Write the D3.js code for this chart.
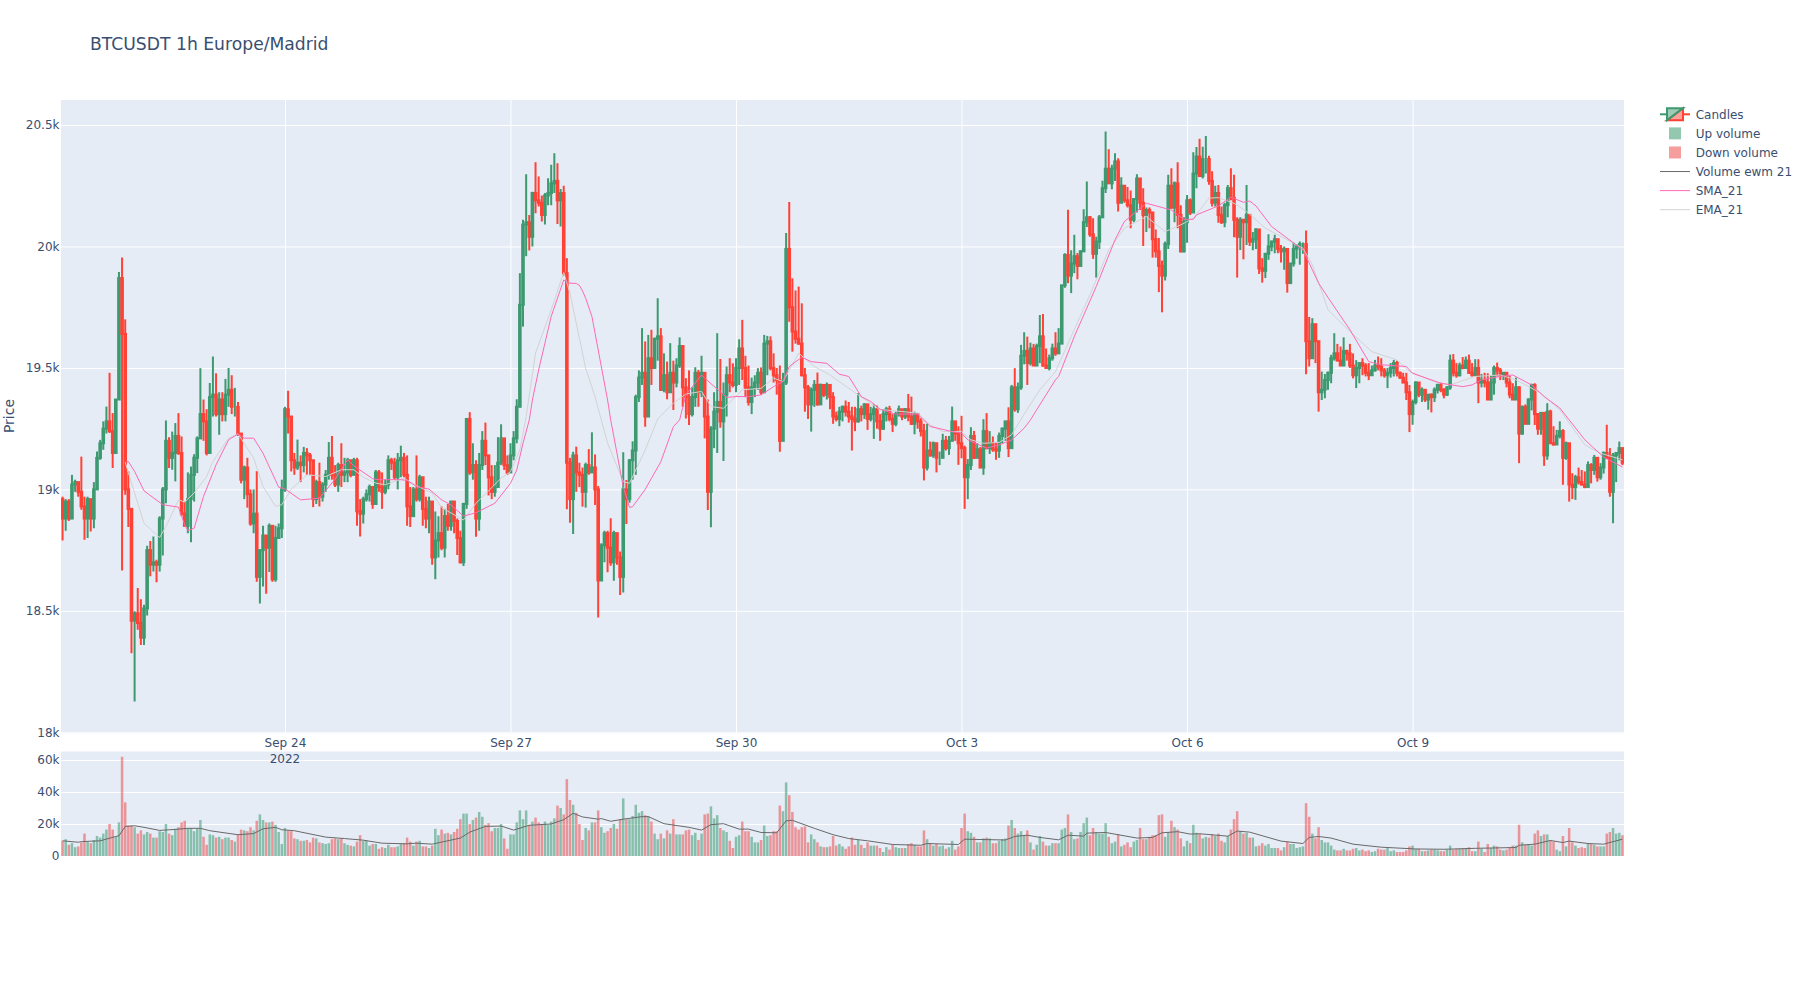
<!DOCTYPE html>
<html>
<head>
<meta charset="utf-8">
<script src="https://cdn.jsdelivr.net/npm/d3@7"></script>
<style>
  body { margin: 0; background: #fff; }
  text { font-family: "DejaVu Sans", Verdana, sans-serif; fill: #3a4e70; }
</style>
</head>
<body>
<div id="drawing"></div>
<script>
const titleText = "BTCUSDT 1h Europe/Madrid";
const firstOpen = 18960;
// one entry per hour, starting Sep 21 2022 01:00
const closes = [
18880,18950,18880,19020,19030,18990,18930,18880,18960,18880,
19000,19130,19190,19250,19280,19240,19150,19370,19870,19640,
19000,18920,18460,18490,18450,18390,18510,18750,18690,18700,
18690,18880,19000,19200,19130,19150,19220,19150,18900,18850,
18960,19060,19130,19210,19310,19280,19150,19380,19390,19310,
19370,19310,19390,19410,19340,19340,19230,19040,19090,18980,
18860,18900,18640,18750,18810,18760,18850,18630,18800,18840,
19000,19330,19300,19120,19090,19110,19100,19150,19140,19120,
18960,19030,18970,19020,19060,19130,19060,19020,19100,19060,
19070,19120,19060,19120,18910,18900,18960,18980,19010,18940,
19070,19010,18990,19020,19120,19110,19050,19120,19130,19060,
18930,18890,19000,18960,19050,18920,18880,18950,18720,18790,
18820,18760,18890,18850,18950,18870,18800,18700,18940,19290,
19070,19100,18880,19100,19200,19140,19050,18990,19010,19110,
19210,19100,19070,19140,19210,19340,19760,20090,20100,20040,
20220,20190,20180,20130,20210,20220,20260,20270,20190,20220,
19890,19110,18960,19140,19070,19060,18990,19100,19070,19090,
19000,18625,18770,18820,18760,18700,18820,18720,18640,19000,
18960,19120,19160,19380,19460,19480,19300,19540,19500,19620,
19630,19410,19470,19400,19480,19440,19510,19590,19420,19380,
19310,19380,19480,19400,19480,19300,18990,19250,19320,19360,
19280,19390,19470,19440,19430,19500,19580,19500,19420,19360,
19420,19440,19480,19400,19600,19610,19500,19470,19450,19200,
19440,19990,19750,19650,19620,19600,19470,19420,19350,19410,
19430,19350,19430,19390,19430,19380,19300,19290,19320,19340,
19320,19300,19290,19280,19330,19310,19350,19290,19310,19330,
19280,19250,19310,19330,19290,19270,19310,19330,19300,19330,
19300,19270,19310,19280,19240,19090,19160,19140,19190,19130,
19130,19200,19170,19200,19280,19230,19190,19170,19050,19100,
19220,19130,19165,19090,19240,19170,19190,19165,19160,19220,
19250,19280,19170,19420,19330,19420,19550,19570,19520,19580,
19510,19590,19630,19510,19500,19540,19580,19560,19600,19840,
19965,19880,19930,19960,19920,19980,20100,20120,20050,19970,
20020,20120,20240,20320,20260,20320,20350,20180,20250,20190,
20170,20110,20195,20280,20180,20130,20150,20140,20030,19980,
19920,19880,20010,20250,20160,20260,20130,19980,20100,20190,
20140,20300,20370,20290,20360,20360,20270,20180,20220,20130,
20100,20170,20240,20200,20110,20040,20110,20100,20130,20020,
20030,20070,19910,19900,19970,20000,20020,20030,19990,19980,
19990,19850,19930,19990,20000,20010,20010,19610,19540,19680,
19610,19400,19410,19450,19480,19540,19560,19530,19510,19570,
19560,19510,19470,19500,19520,19510,19480,19470,19490,19510,
19505,19490,19470,19480,19500,19520,19480,19460,19440,19400,
19310,19360,19440,19390,19410,19370,19390,19380,19410,19430,
19410,19390,19420,19530,19480,19470,19510,19500,19530,19480,
19470,19500,19440,19450,19440,19370,19440,19500,19490,19470,
19480,19440,19390,19370,19420,19230,19340,19270,19370,19430,
19310,19250,19315,19140,19320,19190,19185,19220,19240,19130,
19190,19020,19010,19050,19030,19020,19010,19100,19080,19130,
19050,19090,19150,19130,18990,19140,19150,19170,19110];
const highs = [
18970,18960,18960,19060,19040,19030,19135,18970,18970,18960,
19030,19156,19204,19280,19341,19480,19314,19370,19895,19955,
19700,19074,18920,18498,18594,18548,18525,18768,18788,18806,
18710,18890,19010,19284,19215,19238,19273,19314,19218,18950,
19070,19094,19145,19218,19499,19370,19330,19438,19547,19478,
19400,19400,19455,19500,19470,19418,19360,19230,19098,19130,
19000,19000,19075,18750,18850,18790,18860,18850,18850,18860,
19040,19340,19406,19300,19150,19205,19140,19175,19170,19150,
19040,19040,19110,19030,19080,19195,19220,19100,19110,19190,
19130,19130,19120,19130,19130,18960,18970,19000,19020,19010,
19080,19080,19070,19040,19140,19130,19130,19150,19180,19150,
19140,19010,19010,19140,19060,19050,18970,18970,18950,18909,
18890,18930,18920,18940,18950,18950,18880,18830,18945,19290,
19318,19190,19120,19150,19240,19275,19140,19100,19100,19215,
19268,19210,19140,19190,19240,19371,19890,20110,20297,20130,
20225,20347,20288,20210,20220,20281,20336,20384,20343,20237,
20250,19952,19130,19155,19176,19110,19090,19110,19166,19235,
19144,19014,18778,18830,18830,18881,18830,18800,18744,19153,
19039,19125,19198,19390,19490,19664,19609,19636,19657,19625,
19787,19664,19560,19526,19602,19530,19540,19626,19592,19458,
19490,19420,19503,19492,19550,19480,19370,19260,19400,19643,
19537,19440,19506,19540,19519,19540,19618,19698,19550,19510,
19460,19470,19499,19502,19636,19632,19630,19560,19500,19510,
19480,20055,20183,19869,19819,19835,19766,19500,19430,19420,
19450,19481,19436,19430,19440,19420,19400,19320,19340,19345,
19366,19360,19340,19340,19396,19345,19355,19350,19340,19350,
19345,19310,19330,19340,19344,19310,19320,19345,19330,19335,
19393,19382,19320,19305,19293,19270,19270,19197,19197,19180,
19156,19229,19220,19220,19341,19275,19260,19303,19180,19125,
19256,19241,19190,19175,19289,19314,19240,19218,19195,19234,
19255,19280,19338,19430,19499,19440,19595,19647,19629,19604,
19599,19600,19718,19722,19580,19555,19600,19647,19664,19842,
19972,20151,19985,20048,19973,19985,20153,20267,20125,20116,
20040,20130,20271,20473,20400,20336,20384,20363,20285,20250,
20245,20230,20200,20297,20258,20240,20160,20160,20125,20070,
20035,19942,20020,20295,20322,20267,20347,20170,20120,20212,
20198,20388,20410,20443,20411,20455,20373,20310,20250,20253,
20165,20180,20253,20322,20295,20120,20120,20110,20253,20120,
20060,20075,20048,19952,19972,20050,20025,20048,20027,20006,
20000,19975,19930,20016,20010,20020,20016,20066,19710,19705,
19650,19605,19485,19475,19485,19554,19643,19599,19588,19626,
19575,19599,19560,19532,19520,19540,19520,19520,19510,19533,
19547,19540,19500,19500,19520,19533,19530,19485,19480,19480,
19430,19370,19445,19440,19420,19410,19390,19395,19420,19435,
19440,19417,19425,19555,19557,19520,19522,19545,19547,19555,
19520,19536,19536,19475,19480,19478,19470,19510,19522,19500,
19480,19470,19467,19437,19460,19425,19345,19350,19375,19435,
19437,19314,19318,19290,19355,19328,19260,19245,19280,19248,
19197,19135,19067,19060,19090,19080,19074,19115,19108,19142,
19108,19108,19156,19266,19170,19150,19150,19197,19160];
const lows = [
18790,18830,18870,18880,18990,18970,18916,18793,18800,18827,
18840,19000,19122,19163,19230,19232,19088,19150,19370,18666,
18978,18845,18326,18127,18422,18360,18360,18481,18642,18662,
18618,18662,18728,18943,19088,19081,19033,19142,18889,18848,
18820,18782,18950,19067,19210,19200,19140,19150,19300,19300,
19225,19280,19280,19340,19310,19300,19220,19025,18960,18925,
18850,18820,18620,18530,18600,18570,18660,18620,18620,18800,
18800,18990,19230,19074,19060,19080,19030,19070,19060,19060,
18927,18940,18930,18950,18990,19040,19040,19010,18990,19010,
19030,19030,19050,19060,18850,18806,18860,18950,18950,18920,
18950,18990,18920,18980,19000,19080,19040,19000,19050,19050,
18850,18845,18920,18950,18950,18850,18840,18820,18690,18630,
18720,18750,18720,18830,18830,18820,18730,18695,18685,18920,
19060,19040,18805,18830,19080,19100,18975,18960,18970,19070,
19100,19080,19060,19070,19120,19190,19340,19670,19960,19983,
20000,20137,20165,20103,20090,20170,20170,20220,20093,20082,
19880,18918,18863,18816,18990,19010,18929,18925,19060,19070,
18936,18473,18625,18700,18659,18686,18624,18690,18565,18576,
18858,18945,19040,19060,19360,19430,19258,19300,19430,19520,
19530,19405,19400,19371,19420,19327,19420,19500,19340,19292,
19265,19300,19340,19340,19380,19210,18915,18844,19170,19150,
19254,19117,19300,19400,19420,19400,19430,19450,19380,19345,
19310,19380,19410,19390,19480,19470,19490,19440,19390,19155,
19234,19430,19690,19567,19600,19595,19465,19320,19290,19238,
19340,19345,19380,19380,19370,19330,19270,19280,19260,19280,
19300,19275,19160,19240,19275,19280,19290,19245,19280,19208,
19250,19200,19245,19280,19280,19236,19260,19300,19285,19290,
19280,19265,19227,19250,19218,19037,19078,19135,19130,19070,
19100,19130,19160,19142,19200,19200,19101,19128,18920,18960,
19080,19125,19130,19090,19060,19165,19146,19155,19122,19130,
19190,19200,19133,19170,19320,19315,19410,19515,19430,19510,
19510,19510,19520,19505,19498,19490,19530,19550,19560,19600,
19830,19849,19808,19890,19865,19930,19980,20080,20040,19949,
19872,19990,20120,20220,20260,20236,20270,20144,20180,20180,
20160,20075,20100,20140,20150,20002,20060,20075,19954,19954,
19812,19729,19860,19990,20155,20100,20075,19975,19975,20015,
20130,20150,20240,20288,20280,20300,20254,20165,20165,20098,
20093,20079,20120,20190,20038,19872,19986,19947,20006,20002,
19985,19990,19887,19851,19870,19945,19980,19972,19972,19934,
19904,19810,19845,19917,19950,19925,19970,19474,19506,19560,
19520,19320,19368,19375,19410,19437,19530,19530,19508,19510,
19530,19500,19457,19417,19437,19470,19465,19450,19480,19485,
19490,19465,19460,19417,19460,19465,19465,19455,19437,19368,
19236,19266,19350,19380,19360,19360,19328,19317,19360,19395,
19400,19375,19385,19410,19465,19460,19465,19495,19500,19475,
19465,19470,19355,19420,19420,19368,19370,19390,19465,19450,
19450,19420,19375,19368,19380,19108,19225,19270,19270,19325,
19265,19225,19225,19097,19122,19190,19180,19200,19210,19019,
19122,18950,18960,18957,19020,19016,19005,19012,19025,19060,
19032,19040,19065,19125,18970,18861,19030,19120,19100];
// volume, thousands
const volumes = [
9.5,10.5,7,8,5.5,6,8.5,14,9,8,
10,12.5,11.5,14,16.5,20,16.5,12,21,62,
33.5,19,19,18,14,16,13.5,15,14,11.5,
11.5,15.5,15,20,14,13,17,18,21,22,
17.5,17.5,15.5,17,22.5,12,7,13.5,13,11.5,
12,10.5,11.5,11.5,10,9,13.5,16.5,16,15.5,
18,16,22,26,22.5,21,21,21.5,19.5,15,
7.5,17.5,16,15.5,11,10.5,9.5,9.5,10,8.5,
11.5,11,8.5,8,7.5,8,10.5,11,10.5,11,
8,7,6.5,6,9,13,9.5,9.5,6.5,7.5,
7.5,4.5,5.5,5,7,5.5,5.5,6,7.5,8,
11.5,9,6.5,9,9.5,6,6,5,6.5,17,
13,16.5,14,14.5,13.5,15,17,23,26.5,26.5,
20,22.5,24,27.5,24.5,19.5,20.5,15.5,17.5,17.5,
20,11,4.5,13.5,13.5,21,28.5,23,28.5,19.5,
21.5,24,21,20,21.5,19.5,21.5,23.5,31.5,30,
26,48,35,32,27,20,10,17.5,16,21,
21,28.5,18,14.5,15.5,17.5,20,17,23,36,
23,23,25,32,27,28,25.5,25,21.5,14,
10.5,14,11,16,14,23,13.5,13.5,13.5,16,
16.5,13,14.5,10,14,26,26.5,31,23.5,25.5,
17.5,16,15,9.5,5,12,13,21.5,15.5,15.5,
12,8.5,8.5,10,19,12.5,13,15.5,15.5,31.5,
28,46,38,27.5,18,16.5,18,18.5,8.5,13.5,
10.5,8.5,6,5.5,5.5,6,12.5,6.5,7.5,6,
4.5,6,11.5,7,10,7,5,8.5,6.5,6.5,
6.5,5,2.5,5.5,4,7,5.5,5,5,5,
7.5,8,7,6,6,16,10.5,8,6.5,7.5,
6,6.5,4.5,5.5,9.5,4,6,17.5,26.5,15.5,
14.5,12,8.5,8.5,11,11.5,11,8,8,9.5,
10.5,11,19,22.5,17.5,14,15.5,12.5,16,8.5,
4,7,12.5,9,6.5,6.5,8,8,8,16.5,
17.5,26,15,10.5,11,15,20.5,24,13,17.5,
15,14,14,20.5,12,8,9,13.5,6,7,
8.5,5.5,9,10,17.5,10.5,10.5,12,13,13,
25.5,26,12,15,22,18,16.5,11,6,9.5,
8,19.5,14.5,14,11,12,11.5,13.5,12.5,14,
9.5,8.5,12.5,16.5,23,28,15.5,14,14.5,11.5,
11.5,6,6.5,8,6.5,7.5,5,5,5,3.5,
5.5,9,7.5,7.5,5,5.5,6,33,24.5,14,
11,18,10,8.5,8.5,6.5,4,3.5,3.5,4.5,
3.5,3.5,4.5,5,3.5,4,3,3.5,2.5,3,
4.5,4,4,5,3,3.5,2.5,2.5,2.5,3.5,
6,6.5,4.5,4.5,3,3,3.5,4,4,3.5,
3,3,4,6.5,4,4.5,4.5,4.5,4.5,5.5,
3,3,9,4.5,2.5,7.5,5,6.5,6,4,
3.5,4,5.5,6.5,6.5,19.5,8.5,7,7.5,6.5,
14,16,12.5,13.5,13.5,10,9,4,3,12.5,
6,17.5,8.5,6.5,5,5.5,5,7.5,7.5,7,
6,6,6,14,15,17.5,14,14.5,13];

// moving averages: hour index, value
const smaHours = [20,21,23,26,32,37,39,40,42,45,49,53,56,58,61,64,69,71,76,82,87,91,93,99,101,108,110,113,117,121,124,128,132,138,143,145,147,149,150,152,156,160,162,164,165,166,167,169,170,174,175,179,181,182,186,191,195,197,199,204,205,212,215,219,223,227,230,232,236,239,244,248,251,255,258,261,266,273,277,284,287,289,295,299,303,307,309,311,317,318,323,330,336,339,346,354,358,361,362,369,373,377,379,381,386,396,399,401,404,411,417,421,429,431,440,447,450,453,459,463,469,473,478,481,486,492,498];
const smaValues = [19112,19115,19074,18994,18937,18927,18854,18831,18840,18971,19101,19204,19228,19211,19211,19149,19009,19002,18957,18964,19042,19122,19097,19044,19040,19040,19037,19012,19001,18957,18936,18890,18904,18943,19025,19080,19190,19286,19368,19492,19712,19862,19849,19848,19840,19817,19787,19712,19643,19368,19286,19011,18926,18929,19000,19114,19258,19286,19390,19471,19458,19379,19382,19382,19389,19423,19444,19506,19544,19526,19519,19474,19465,19382,19362,19330,19310,19310,19259,19238,19231,19204,19170,19183,19204,19252,19286,19328,19451,19465,19629,19835,20027,20103,20178,20150,20112,20112,20130,20167,20203,20182,20187,20167,20082,19986,19904,19849,19790,19657,19526,19513,19506,19478,19437,19423,19430,19451,19465,19471,19430,19382,19335,19286,19204,19133,19092];
const emaHours = [20,22,26,31,33,37,39,42,46,48,53,56,61,64,68,70,73,78,84,89,93,96,100,103,109,113,118,121,128,132,140,143,146,148,151,156,160,162,167,170,172,174,179,181,186,190,195,199,204,207,211,217,223,227,230,235,240,245,254,261,263,273,277,281,287,290,294,299,303,307,312,317,322,328,334,339,346,352,357,361,366,369,374,378,384,388,396,399,404,411,418,426,430,438,443,451,459,464,472,478,486,491,498];
const emaValues = [19112,19026,18861,18802,18847,18957,18948,18985,19053,19115,19211,19229,19129,19012,18930,18937,19001,19060,19053,19081,19081,19050,19026,19019,19046,19015,18985,18925,18874,18943,19046,19073,19162,19300,19561,19739,19893,19808,19499,19382,19286,19190,19032,19025,19162,19290,19355,19393,19403,19341,19334,19410,19416,19458,19444,19561,19506,19471,19389,19327,19327,19314,19266,19238,19238,19204,19190,19193,19225,19310,19410,19485,19629,19801,19986,20075,20123,20061,20089,20116,20199,20201,20178,20144,20075,20048,19993,19925,19739,19650,19567,19533,19485,19444,19430,19465,19471,19451,19396,19328,19183,19149,19122];
const ewmHours = [0,5,6,12,17,18,20,23,26,31,36,40,44,47,56,61,64,68,70,74,84,90,96,102,110,113,118,127,130,135,140,144,149,156,160,163,166,171,172,175,179,185,187,192,200,204,207,211,216,219,223,228,231,233,240,246,251,257,265,274,276,286,288,301,304,308,312,318,321,326,327,333,343,348,351,356,360,363,372,375,379,389,396,398,401,405,412,421,432,441,451,464,465,470,475,479,481,487,492,498];
const ewmValues = [9.5,8.6,9,9.5,12.2,12.6,18.5,18.9,17.9,16,16.6,17.3,17.3,15.8,13.3,14,17,17.9,16.4,15.8,11.8,10.9,9.9,8,7.6,8,7.4,11.2,14.9,18.5,18.7,16.2,19.2,20,22.7,26.7,24.4,23,23.4,21.7,23,24.6,24.6,20.2,17.9,16.2,19.6,20.2,16.8,16.8,14.7,14.5,22,22.3,17.3,13.3,10.9,9.5,7.2,6.7,7.8,7.2,10.5,10,12.2,13,11.6,10.1,13,12.4,14.3,14.7,11.2,11.6,14.5,15.2,13.7,13.9,12.4,15.6,14.9,9.3,7.8,11.6,12.2,11.2,7.4,5.5,4.4,4.2,4.8,5.3,6.7,7.4,9.7,8.4,9.3,7.8,7.4,10.5];

const priceTicks = [18000,18500,19000,19500,20000,20500];
const priceTickLabels = ["18k","18.5k","19k","19.5k","20k","20.5k"];
const volumeTicks = [0,20,40,60];
const volumeTickLabels = ["0","20k","40k","60k"];
const dateTicks = ["2022-09-24","2022-09-27","2022-09-30","2022-10-03","2022-10-06","2022-10-09"];
const dateTickLabels = ["Sep 24","Sep 27","Sep 30","Oct 3","Oct 6","Oct 9"];
const legendNames = ["Candles","Up volume","Down volume","Volume ewm 21","SMA_21","EMA_21"];

const width = 1800;
const height = 1000;
const plot = {left: 61, right: 1624, priceTop: 100, priceBottom: 733.3, volTop: 751.5, volBottom: 856};
const upColor = "#3D9970";
const downColor = "#FF4136";
const startTime = Date.UTC(2022, 8, 21, 1);
const hourMs = 3600000;
const hourTime = (h) => new Date(startTime + h * hourMs);

let drawing;
let x, yPrice, yVolume;

function setup(){
  drawing = d3.select("#drawing").append("svg")
    .attr("width", width)
    .attr("height", height)
    .style("display", "block");

  x = d3.scaleUtc()
    .domain([hourTime(-0.5), hourTime(closes.length - 0.5)])
    .range([plot.left, plot.right]);
  yPrice = d3.scaleLinear().domain([17996, 20603]).range([plot.priceBottom, plot.priceTop]);
  yVolume = d3.scaleLinear().domain([0, 65.3]).range([plot.volBottom, plot.volTop]);

  const defs = drawing.append("defs");
  defs.append("clipPath").attr("id", "clipPrice").append("rect")
    .attr("x", plot.left).attr("y", plot.priceTop)
    .attr("width", plot.right - plot.left).attr("height", plot.priceBottom - plot.priceTop);
  defs.append("clipPath").attr("id", "clipVol").append("rect")
    .attr("x", plot.left).attr("y", plot.volTop)
    .attr("width", plot.right - plot.left).attr("height", plot.volBottom - plot.volTop);
}

function drawAxes(){
  drawing.append("rect")
    .attr("x", plot.left).attr("y", plot.priceTop)
    .attr("width", plot.right - plot.left).attr("height", plot.priceBottom - plot.priceTop)
    .attr("fill", "#E5ECF6");
  drawing.append("rect")
    .attr("x", plot.left).attr("y", plot.volTop)
    .attr("width", plot.right - plot.left).attr("height", plot.volBottom - plot.volTop)
    .attr("fill", "#E5ECF6");

  const gridStyle = (g) => {
    g.select(".domain").remove();
    g.selectAll(".tick line").attr("stroke", "#fff").attr("stroke-width", 1);
    g.selectAll(".tick text").attr("font-size", 12);
  };

  drawing.append("g")
    .attr("transform", `translate(${plot.left},0)`)
    .call(d3.axisLeft(yPrice)
      .tickValues(priceTicks)
      .tickFormat((d, i) => priceTickLabels[i])
      .tickSize(-(plot.right - plot.left))
      .tickPadding(1.5))
    .call(gridStyle);

  drawing.append("g")
    .attr("transform", `translate(${plot.left},0)`)
    .call(d3.axisLeft(yVolume)
      .tickValues(volumeTicks)
      .tickFormat((d, i) => volumeTickLabels[i])
      .tickSize(-(plot.right - plot.left))
      .tickPadding(1.5))
    .call(gridStyle);

  drawing.append("g")
    .attr("transform", `translate(0,${plot.priceBottom})`)
    .call(d3.axisBottom(x)
      .tickValues(dateTicks.map((d) => new Date(d + "T00:00:00Z")))
      .tickFormat((d, i) => dateTickLabels[i])
      .tickSize(-(plot.priceBottom - plot.priceTop))
      .tickPadding(5))
    .call(gridStyle);

  drawing.append("text")
    .attr("x", x(new Date(dateTicks[0] + "T00:00:00Z")))
    .attr("y", 762.5)
    .attr("text-anchor", "middle")
    .attr("font-size", 12)
    .text("2022");

  drawing.append("text")
    .attr("transform", "translate(14,416) rotate(-90)")
    .attr("text-anchor", "middle")
    .attr("font-size", 14)
    .text("Price");

  drawing.append("text")
    .attr("x", 90).attr("y", 50)
    .attr("font-size", 17.2)
    .text(titleText);
}

function drawCandles(){
  const opens = [firstOpen].concat(closes.slice(0, -1));
  const candles = closes.map((c, i) => ({t: hourTime(i), o: opens[i], c: c, h: highs[i], l: lows[i]}));
  const colorOf = (d) => d.c >= d.o ? upColor : downColor;

  const layer = drawing.append("g").attr("clip-path", "url(#clipPrice)");
  layer.selectAll(".wick")
    .data(candles)
    .enter()
    .append("line")
      .attr("class", "wick")
      .attr("x1", (d) => x(d.t))
      .attr("x2", (d) => x(d.t))
      .attr("y1", (d) => yPrice(d.h))
      .attr("y2", (d) => yPrice(d.l))
      .attr("stroke", colorOf)
      .attr("stroke-width", 2);
  layer.selectAll(".body")
    .data(candles)
    .enter()
    .append("rect")
      .attr("class", "body")
      .attr("x", (d) => x(d.t) - 0.8)
      .attr("width", 1.6)
      .attr("y", (d) => yPrice(Math.max(d.o, d.c)))
      .attr("height", (d) => Math.abs(yPrice(d.o) - yPrice(d.c)))
      .attr("fill", colorOf)
      .attr("fill-opacity", 0.5)
      .attr("stroke", colorOf)
      .attr("stroke-width", 2);

  const line = d3.line()
    .x((d) => x(hourTime(d[0])))
    .y((d) => yPrice(d[1]));
  layer.append("path")
    .datum(emaHours.map((h, i) => [h, emaValues[i]]))
    .attr("d", line)
    .attr("fill", "none").attr("stroke", "#d3d3d3").attr("stroke-width", 1);
  layer.append("path")
    .datum(smaHours.map((h, i) => [h, smaValues[i]]))
    .attr("d", line)
    .attr("fill", "none").attr("stroke", "#ff69b4").attr("stroke-width", 1);
}

function drawVolume(){
  const opens = [firstOpen].concat(closes.slice(0, -1));
  const barWidth = (x(hourTime(1)) - x(hourTime(0))) * 0.8;
  const layer = drawing.append("g").attr("clip-path", "url(#clipVol)");
  layer.selectAll(".volBar")
    .data(volumes)
    .enter()
    .append("rect")
      .attr("class", "volBar")
      .attr("x", (d, i) => x(hourTime(i)) - barWidth / 2)
      .attr("width", barWidth)
      .attr("y", (d) => yVolume(d))
      .attr("height", (d) => yVolume(0) - yVolume(d))
      .attr("fill", (d, i) => closes[i] >= opens[i] ? "#3D9970" : "#EE3B3B")
      .attr("fill-opacity", (d, i) => closes[i] >= opens[i] ? 0.55 : 0.5);

  const line = d3.line()
    .x((d) => x(hourTime(d[0])))
    .y((d) => yVolume(d[1]));
  layer.append("path")
    .datum(ewmHours.map((h, i) => [h, ewmValues[i]]))
    .attr("d", line)
    .attr("fill", "none").attr("stroke", "#696969").attr("stroke-width", 1);
}

function drawLegend(){
  const rowY = d3.scalePoint().domain(legendNames).range([114.3, 209.7]);
  const legend = drawing.append("g");
  legend.selectAll("text")
    .data(legendNames)
    .enter()
    .append("text")
      .attr("x", 1695.7)
      .attr("y", (d) => rowY(d) + 4.5)
      .attr("font-size", 12)
      .text((d) => d);

  const cy = rowY("Candles");
  legend.append("path")
    .attr("d", `M1667 ${cy + 6}L1683 ${cy + 6}L1683 ${cy - 6}Z`)
    .attr("fill", downColor).attr("fill-opacity", 0.5).attr("stroke", downColor).attr("stroke-width", 2);
  legend.append("path")
    .attr("d", `M1667 ${cy + 6}L1667 ${cy - 6}L1683 ${cy - 6}Z`)
    .attr("fill", upColor).attr("fill-opacity", 0.5).attr("stroke", upColor).attr("stroke-width", 2);
  legend.append("line").attr("x1", 1660).attr("x2", 1667).attr("y1", cy).attr("y2", cy)
    .attr("stroke", upColor).attr("stroke-width", 2);
  legend.append("line").attr("x1", 1683).attr("x2", 1690).attr("y1", cy).attr("y2", cy)
    .attr("stroke", downColor).attr("stroke-width", 2);

  [["Up volume", "#3D9970", 0.55], ["Down volume", "#EE3B3B", 0.5]].forEach((s) => {
    legend.append("rect")
      .attr("x", 1669).attr("y", rowY(s[0]) - 6)
      .attr("width", 12).attr("height", 12)
      .attr("fill", s[1]).attr("fill-opacity", s[2]);
  });
  [["Volume ewm 21", "#696969"], ["SMA_21", "#ff69b4"], ["EMA_21", "#d3d3d3"]].forEach((s) => {
    legend.append("line")
      .attr("x1", 1660).attr("x2", 1690)
      .attr("y1", rowY(s[0])).attr("y2", rowY(s[0]))
      .attr("stroke", s[1]).attr("stroke-width", 1);
  });
}

setup();
drawAxes();
drawCandles();
drawVolume();
drawLegend();
</script>
</body>
</html>
